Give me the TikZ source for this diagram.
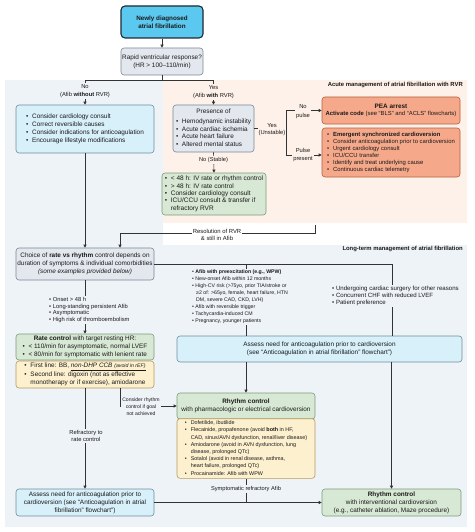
\documentclass[tikz,border=0pt]{standalone}
\usepackage{fontspec}
\setmainfont{Liberation Sans}
\usetikzlibrary{arrows.meta}
\definecolor{bgblue}{HTML}{EEF3F8}
\definecolor{bgorange}{HTML}{FDF1EA}
\definecolor{startfill}{HTML}{5BC8F0}
\definecolor{startline}{HTML}{1E2A33}
\definecolor{grayfill}{HTML}{E3E7EE}
\definecolor{grayline}{HTML}{7D8796}
\definecolor{cyanfill}{HTML}{D7F0FA}
\definecolor{cyanline}{HTML}{6F8E9C}
\definecolor{greenfill}{HTML}{D7E8D4}
\definecolor{greenline}{HTML}{7F9A7B}
\definecolor{yellowfill}{HTML}{FDF0CF}
\definecolor{yellowline}{HTML}{B59A5E}
\definecolor{orangefill}{HTML}{F6A98A}
\definecolor{orangeline}{HTML}{B3603E}
\definecolor{linecol}{HTML}{333333}
\definecolor{txt}{HTML}{1A1A1A}
\newcommand\fm{\fontsize{6.4}{7.7}\selectfont}
\newcommand\fs{\fontsize{5.7}{7}\selectfont}
\newcommand\fo{\fontsize{5.9}{7}\selectfont}
\newcommand\fd{\fontsize{5.4}{7.2}\selectfont}
\newcommand\blt{\makebox[6pt][l]{\textbullet}}
\newcommand\bind{\hspace*{6pt}}
\tikzset{
  arr/.style={-{Triangle[length=3pt,width=3pt]}, line width=0.6pt, draw=linecol},
  ln/.style={line width=0.6pt, draw=linecol},
  box/.style={rounded corners=3pt, line width=0.6pt, inner sep=1pt, align=center, font=\fm, text=txt},
  startbox/.style={box, fill=startfill, draw=startline, line width=1.1pt, rounded corners=4pt, font=\fontsize{6.3}{7.9}\selectfont\bfseries},
  graybox/.style={box, fill=grayfill, draw=grayline},
  cyanbox/.style={box, fill=cyanfill, draw=cyanline},
  greenbox/.style={box, fill=greenfill, draw=greenline},
  yellowbox/.style={box, fill=yellowfill, draw=yellowline},
  orangebox/.style={box, fill=orangefill, draw=orangeline},
  lbl/.style={font=\fs, align=center, inner sep=1pt, fill=bgblue, text=txt},
  lblo/.style={lbl, fill=bgorange},
  title/.style={font=\fontsize{5.9}{7}\selectfont\bfseries, anchor=east, inner sep=0pt, text=txt}
}
\begin{document}
\begin{tikzpicture}[x=1pt,y=-1pt]
\useasboundingbox (0,0) rectangle (474,532);
% regions
\fill[bgblue] (5,80) rectangle (163,527);
\fill[bgblue] (163,245) rectangle (467,527);
\fill[bgorange] (163,80) rectangle (467,223);
\node[title] (t1) at (463,85) {Acute management of atrial fibrillation with RVR};
\node[title] (t2) at (463,249) {Long-term management of atrial fibrillation};

% boxes
\node[startbox, minimum width=82pt, minimum height=32pt] (start) at (162,22) {Newly diagnosed\\atrial fibrillation};
\node[graybox, minimum width=82pt, minimum height=27pt] (rapid) at (162,61.5) {Rapid ventricular response?\\(HR > 100–110/min)};
\node[cyanbox, minimum width=138pt, minimum height=48pt] (consider) at (85,129) {\begin{tabular}{@{}l@{}}\blt Consider cardiology consult\\\blt Correct reversible causes\\\blt Consider indications for anticoagulation\\\blt Encourage lifestyle modifications\end{tabular}};
\node[graybox, minimum width=81pt, minimum height=47pt] (presence) at (213.5,128.5) {\begin{tabular}{@{}l@{}}\multicolumn{1}{@{}c@{}}{Presence of}\\[2pt]\blt Hemodynamic instability\\\blt Acute cardiac ischemia\\\blt Acute heart failure\\\blt Altered mental status\end{tabular}};
\node[orangebox, minimum width=138pt, minimum height=27pt, font=\fo] (pea) at (391,110.5) {{\fontsize{6.4}{7.8}\selectfont\bfseries PEA arrest}\\\textbf{Activate code} (see “BLS” and “ACLS” flowcharts)};
\node[orangebox, minimum width=138pt, minimum height=49pt, font=\fo] (emerg) at (391,152.5) {\begin{tabular}{@{}l@{}}\blt\textbf{Emergent synchronized cardioversion}\\\blt Consider anticoagulation prior to cardioversion\\\blt Urgent cardiology consult\\\blt ICU/CCU transfer\\\blt Identify and treat underlying cause\\\blt Continuous cardiac telemetry\end{tabular}};
\node[greenbox, minimum width=104pt, minimum height=42pt, font=\fontsize{6.5}{7.4}\selectfont] (stable) at (214,194) {\begin{tabular}{@{}l@{}}\blt < 48 h: IV rate or rhythm control\\\blt > 48 h: IV rate control\\\blt Consider cardiology consult\\\blt ICU/CCU consult \& transfer if\\\bind refractory RVR\end{tabular}};
\node[graybox, minimum width=138pt, minimum height=32pt, font=\fontsize{6.4}{8.3}\selectfont] (choice) at (85,264) {Choice of \textbf{rate vs rhythm} control depends on\\duration of symptoms \& individual comorbidities\\\textit{(some examples provided below)}};
\node[greenbox, minimum width=138pt, minimum height=26pt, font=\fontsize{6.4}{8}\selectfont] (rate) at (85,347) {\begin{tabular}{@{}l@{}}\multicolumn{1}{@{}c@{}}{\textbf{Rate control} with target resting HR:}\\\blt < 110/min for asymptomatic, normal LVEF\\\blt < 80/min for symptomatic with lenient rate\end{tabular}};
\node[yellowbox, minimum width=138pt, minimum height=27pt, font=\fontsize{6.4}{8}\selectfont] (first) at (85,374.5) {\begin{tabular}{@{}l@{}}\blt First line: BB, \underline{\textit{non-DHP CCB {\fontsize{5.2}{6}\selectfont(avoid in rEF)}}}\\\blt Second line: digoxin (not as effective\\\bind monotherapy or if exercise), amiodarone\end{tabular}};
\node[cyanbox, minimum width=285pt, minimum height=26pt] (assessR) at (319.5,349) {Assess need for anticoagulation prior to cardioversion\\(see “Anticoagulation in atrial fibrillation” flowchart”)};
\node[greenbox, minimum width=138pt, minimum height=26pt] (rhythm) at (246,406) {\textbf{Rhythm control}\\with pharmacologic or electrical cardioversion};
\node[yellowbox, minimum width=138pt, minimum height=57pt, font=\fd] (drugs) at (246,448.5) {\begin{tabular}{@{}l@{}}\blt Dofetilide, ibutilide\\\blt Flecainide, propafenone (avoid \textbf{both} in HF,\\\bind CAD, sinus/AVN dysfunction, renal/liver disease)\\\blt Amiodarone (avoid in AVN dysfunction, lung\\\bind disease, prolonged QTc)\\\blt Sotalol (avoid in renal disease, asthma,\\\bind heart failure, prolonged QTc)\\\blt Procainamide: Afib with WPW\end{tabular}};
\node[cyanbox, minimum width=138pt, minimum height=27pt, font=\fontsize{6.4}{8}\selectfont] (assessL) at (85,502.5) {Assess need for anticoagulation prior to\\cardioversion (see “Anticoagulation in atrial\\fibrillation” flowchart”)};
\node[greenbox, minimum width=139pt, minimum height=27pt, font=\fontsize{6.4}{8}\selectfont] (interv) at (391.5,502.5) {\textbf{Rhythm control}\\with interventional cardioversion\\(e.g., catheter ablation, Maze procedure)};

% coordinates
\coordinate (split) at (162,80);
\coordinate (splitL) at (85,80);
\coordinate (splitR) at (213.5,80);
\coordinate (brM) at (286,128.5);
\coordinate (brT) at (286,110.5);
\coordinate (brB) at (286,155);
\coordinate (resA) at (315,225);
\coordinate (resB) at (315,233.5);
\coordinate (resC) at (120,233.5);
\coordinate (chR) at (392,264);
\coordinate (chM) at (246,264);

% connectors
\draw[arr] (start) -- (rapid);
\draw[ln] (rapid.south) -- (split);
\draw[ln] (splitL) -- (splitR);
\draw[arr] (splitL) -- (consider.north);
\draw[arr] (splitR) -- (presence.north);
\draw[ln] (presence.east) -- (brM);
\draw[ln] (brT) -- (brB);
\draw[arr] (brT) -- (pea.west);
\draw[arr] (brB) -- (brB -| emerg.west);
\draw[arr] (presence.south) -- (stable.north);
\draw[arr] (resA) -- (resB) -- (resC) -- (resC |- choice.north);
\draw[arr] (consider.south) -- (choice.north);
\draw[ln] (choice.east) -- (chR) -- (chR |- assessR.north);
\draw[ln] (chM) -- (chM |- assessR.north);
\draw[arr] (choice.south) -- (rate.north);
\draw[arr] (assessR.south -| rhythm.north) -- (rhythm.north);
\draw[arr] (interv.north |- assessR.south) -- (interv.north);
\draw[arr] (first.south) -- (assessL.north);
\draw[arr] ([xshift=35pt]first.south) |- (rhythm.west);
\draw[ln] (drugs.south) -- (drugs.south |- assessL.east);
\draw[arr] (assessL.east) -- (interv.west);

% labels
\node[lbl, font=\fontsize{5.8}{8}\selectfont] (lno) at (85,91) {No\\(Afib \textbf{without} RVR)};
\node[lblo, font=\fontsize{5.8}{8}\selectfont] (lyes) at (213.5,92) {Yes\\(Afib \textbf{with} RVR)};
\node[lblo, font=\fontsize{5.8}{7.6}\selectfont] (lunst) at (272,129.5) {Yes\\(Unstable)};
\node[lblo, font=\fontsize{5.8}{8.5}\selectfont] (lnop) at (303,111.5) {No\\pulse};
\node[lblo, font=\fontsize{5.8}{8.5}\selectfont] (lpp) at (303,155) {Pulse\\present};
\node[lblo] (lstab) at (213.5,160) {No (Stable)};
\node[lbl, fill=white, font=\fontsize{5.9}{7.5}\selectfont] (lres) at (217,235) {Resolution of RVR\\\& still in Afib};
\node[lbl, anchor=west, align=left, font=\fontsize{5.8}{6.9}\selectfont] (lleft) at (48,310) {• Onset > 48 h\\• Long-standing persistent Afib\\• Asymptomatic\\• High risk of thromboembolism};
\node[lbl, anchor=west, align=left, font=\fontsize{5.2}{7}\selectfont] (lmid) at (191,297) {• \textbf{Afib with preexcitation (e.g., WPW)}\\• New-onset Afib within 12 months\\• High-CV risk (>75yo, prior TIA/stroke or\\\hspace*{4pt}≥2 of: >65yo, female, heart failure, HTN\\\hspace*{4pt}DM, severe CAD, CKD, LVH)\\• Afib with reversible trigger\\• Tachycardia-induced CM\\• Pregnancy, younger patients};
\node[lbl, anchor=west, align=left, font=\fontsize{6.1}{7.3}\selectfont] (lright) at (331,296) {• Undergoing cardiac surgery for other reasons\\• Concurrent CHF with reduced LVEF\\• Patient preference};
\node[lbl, font=\fontsize{5.8}{7.6}\selectfont] (lrefr) at (86,436) {Refractory to\\rate control};
\node[lbl, font=\fontsize{5.1}{7}\selectfont] (lcons) at (141,407) {Consider rhythm\\control if goal\\not achieved};
\node[lbl, font=\fontsize{5.7}{7}\selectfont] (lsymp) at (246,489) {Symptomatic refractory Afib};
\end{tikzpicture}
\end{document}
